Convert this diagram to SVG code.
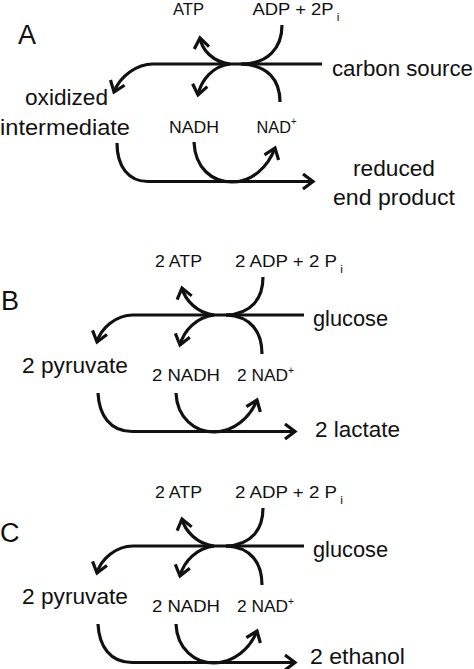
<svg xmlns="http://www.w3.org/2000/svg" width="474" height="669" viewBox="0 0 474 669">
<style>
text{font-family:"Liberation Sans",Arial,sans-serif;fill:#111}
.big{font-size:22px}
.sm{font-size:17px}
.pl{font-size:27px}
.sub{font-size:11px}
.sup{font-size:10px}
.c{fill:none;stroke:#111;stroke-width:3.2;stroke-linecap:butt}
.a{marker-end:url(#ah)}
</style>
<defs>
<marker id="ah" markerUnits="userSpaceOnUse" markerWidth="30" markerHeight="30" refX="0" refY="0" viewBox="-15 -15 30 30" orient="auto" overflow="visible">
<path d="M-10,-7.5 L0,0 L-10,7.5" fill="none" stroke="#111" stroke-width="3.2" stroke-linejoin="miter"/>
</marker>
<g id="connB">
<path class="c a" d="M304,315 H133 C116,315 101,328 97,342"/>
<path class="c a" d="M214,315 C197,313 185,300 182,288"/>
<path class="c" d="M263,277 C263,298 252,314 226,315"/>
<path class="c a" d="M214,315 C197,317 184,330 180,345"/>
<path class="c" d="M262,354 C262,332 251,316 226,315"/>
<path class="c a" d="M98,393 C99,415 110,431.5 132,431.5 H295"/>
<path class="c a" d="M176,393 C177,418 195,432 214,432 C233,432 250,418 257,400"/>
</g>
</defs>

<g id="connectors">
<g id="connectors-A">
<path class="c a" d="M322,64 H153 C137,64 120,76 114,92"/>
<path class="c a" d="M230,64 C213,62 202,50 200,38"/>
<path class="c" d="M282,25 C282,48 268,64 241,64"/>
<path class="c a" d="M230,64 C213,66 201,80 198,95"/>
<path class="c" d="M280,102 C280,80 268,65 241,64"/>
<path class="c a" d="M117,143 C117,166 128,181.5 148,181.5 H313"/>
<path class="c a" d="M194,142 C195,168 212,182 232,182 C252,182 268,167 275,148"/>
</g>
<use id="connectors-B" href="#connB"/>
<use id="connectors-C" href="#connB" transform="translate(0,231)"/>
</g>

<g id="panelA">
<g id="labelA"><text class="pl" x="18" y="44">A</text></g>
<g id="atpA"><text class="sm" x="173" y="15" textLength="31" lengthAdjust="spacingAndGlyphs">ATP</text></g>
<g id="adpA"><text class="sm" x="252.5" y="15" textLength="87" lengthAdjust="spacingAndGlyphs">ADP + 2P<tspan class="sub" dx="3" dy="6">i</tspan></text></g>
<g id="carbonA"><text class="big" x="332" y="76" textLength="141" lengthAdjust="spacingAndGlyphs">carbon source</text></g>
<g id="oxidizedA"><text class="big" x="25" y="105" textLength="83" lengthAdjust="spacingAndGlyphs">oxidized</text><text class="big" x="0" y="135" textLength="130" lengthAdjust="spacingAndGlyphs">intermediate</text></g>
<g id="nadhA"><text class="sm" x="169" y="133" textLength="50" lengthAdjust="spacingAndGlyphs">NADH</text></g>
<g id="nadA"><text class="sm" x="256.5" y="133" textLength="40" lengthAdjust="spacingAndGlyphs">NAD<tspan class="sup" dy="-8">+</tspan></text></g>
<g id="reducedA"><text class="big" x="353" y="176" textLength="82" lengthAdjust="spacingAndGlyphs">reduced</text><text class="big" x="333" y="205" textLength="122" lengthAdjust="spacingAndGlyphs">end product</text></g>
</g>

<g id="panelB">
<g id="labelB"><text class="pl" x="1" y="310">B</text></g>
<g id="atpB"><text class="sm" x="155" y="267" textLength="47" lengthAdjust="spacingAndGlyphs">2 ATP</text></g>
<g id="adpB"><text class="sm" x="235" y="267" textLength="108" lengthAdjust="spacingAndGlyphs">2 ADP + 2 P<tspan class="sub" dx="3" dy="6">i</tspan></text></g>
<g id="glucoseB"><text class="big" x="313" y="326" textLength="75" lengthAdjust="spacingAndGlyphs">glucose</text></g>
<g id="pyruvateB"><text class="big" x="22" y="373" textLength="106" lengthAdjust="spacingAndGlyphs">2 pyruvate</text></g>
<g id="nadhB"><text class="sm" x="152" y="381" textLength="68" lengthAdjust="spacingAndGlyphs">2 NADH</text></g>
<g id="nadB"><text class="sm" x="237" y="381" textLength="57" lengthAdjust="spacingAndGlyphs">2 NAD<tspan class="sup" dy="-7">+</tspan></text></g>
<g id="lactateB"><text class="big" x="315" y="437" textLength="85" lengthAdjust="spacingAndGlyphs">2 lactate</text></g>
</g>

<g id="panelC">
<g id="labelC"><text class="pl" x="0" y="542">C</text></g>
<g id="atpC"><text class="sm" x="155" y="498" textLength="47" lengthAdjust="spacingAndGlyphs">2 ATP</text></g>
<g id="adpC"><text class="sm" x="235" y="498" textLength="108" lengthAdjust="spacingAndGlyphs">2 ADP + 2 P<tspan class="sub" dx="3" dy="6">i</tspan></text></g>
<g id="glucoseC"><text class="big" x="313" y="557" textLength="75" lengthAdjust="spacingAndGlyphs">glucose</text></g>
<g id="pyruvateC"><text class="big" x="22" y="604" textLength="106" lengthAdjust="spacingAndGlyphs">2 pyruvate</text></g>
<g id="nadhC"><text class="sm" x="152" y="612" textLength="68" lengthAdjust="spacingAndGlyphs">2 NADH</text></g>
<g id="nadC"><text class="sm" x="237" y="612" textLength="57" lengthAdjust="spacingAndGlyphs">2 NAD<tspan class="sup" dy="-7">+</tspan></text></g>
<g id="ethanolC"><text class="big" x="310" y="664" textLength="95" lengthAdjust="spacingAndGlyphs">2 ethanol</text></g>
</g>
</svg>
